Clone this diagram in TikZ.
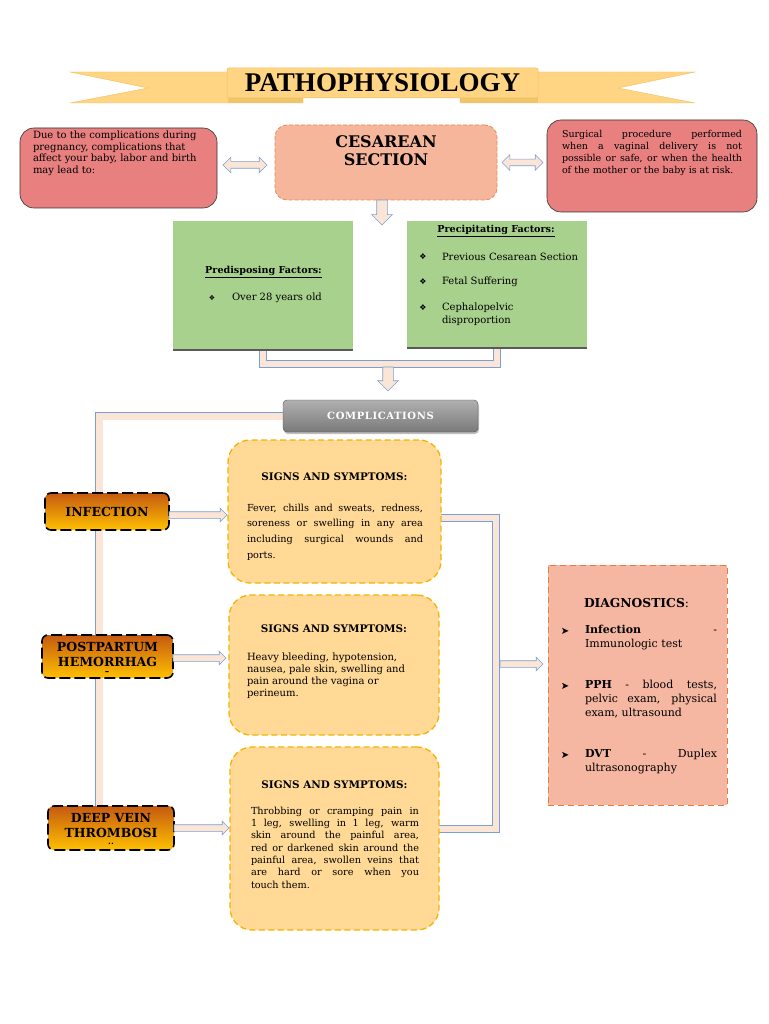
\documentclass[tikz,border=0pt]{standalone}
\usepackage{fontspec}
\setmainfont{DejaVu Serif}
\newfontfamily\titlefont{Liberation Serif}
\newfontfamily\symfont{DejaVu Sans}
\usetikzlibrary{shapes.arrows,calc,backgrounds,shadows}
\definecolor{ribbonfill}{HTML}{FFD583}
\definecolor{ribbonedge}{HTML}{F2BE5C}
\definecolor{ribbondark}{HTML}{F0C46A}
\definecolor{redfill}{HTML}{E88080}
\definecolor{cesfill}{HTML}{F6B69B}
\definecolor{cesedge}{HTML}{EC8A50}
\definecolor{greenfill}{HTML}{A9D18E}
\definecolor{pipeblue}{HTML}{7B9FD3}
\definecolor{pipefill}{HTML}{FBE5D6}
\definecolor{signfill}{HTML}{FFD995}
\definecolor{signedge}{HTML}{F4B400}
\definecolor{orangetop}{HTML}{C55A11}
\definecolor{orangebot}{HTML}{FFC000}
\definecolor{diagfill}{HTML}{F5B7A1}
\definecolor{diagedge}{HTML}{E87A3C}
\definecolor{graytop}{HTML}{B0B0B0}
\definecolor{graybot}{HTML}{7A7A7A}
\newcommand\tailarrow[3]{\path let \p1=#2, \p2=#3, \n1={atan2(\y2-\y1,\x2-\x1)}, \n2={veclen(\x2-\x1,\y2-\y1)} in node[#1, minimum height=\n2, rotate=\n1, anchor=tail] at (\p1) {};}
\newcommand\botharrow[3]{\path let \p1=#2, \p2=#3, \n1={atan2(\y2-\y1,\x2-\x1)}, \n2={veclen(\x2-\x1,\y2-\y1)} in node[#1, minimum height=\n2, rotate=\n1] at ($(\p1)!.5!(\p2)$) {};}
\newcommand\jline[2]{\makebox[#1][s]{#2}}
\newcommand\bodyfont{\fontsize{10}{11.7}\selectfont}
\begin{document}
\begin{tikzpicture}[x=1pt,y=-1pt,
  every node/.style={inner sep=0pt, outer sep=0pt},
  redbox/.style={draw=black!80, line width=.6pt, fill=redfill, rounded corners=14pt},
  cesbox/.style={draw=cesedge, line width=.8pt, dash pattern=on 4pt off 2pt, fill=cesfill, rounded corners=12pt},
  greenbox/.style={fill=greenfill},
  compbox/.style={top color=graytop, bottom color=graybot, draw=graybot!70!black, line width=.4pt, rounded corners=4pt, text=white, font=\bfseries\fontsize{10}{12}\selectfont\addfontfeatures{LetterSpace=6}, drop shadow={shadow xshift=1pt, shadow yshift=-2pt, opacity=.5}},
  signbox/.style={fill=signfill, draw=signedge, line width=1.3pt, dash pattern=on 6pt off 3.5pt, rounded corners=22pt},
  sigtitle/.style={font=\bfseries\fontsize{10.4}{12}\selectfont},
  orangebox/.style={top color=orangetop, bottom color=orangebot, draw=black, line width=1.6pt, dash pattern=on 11pt off 4pt, rounded corners=6pt},
  boxlabel/.style={font=\bfseries\fontsize{12.5}{15}\selectfont, align=center},
  diagbox/.style={fill=diagfill, draw=diagedge, line width=1pt, dash pattern=on 6pt off 4pt},
  pipe/.style={draw=pipeblue, line width=.7pt, double=pipefill, double distance=6pt},
  sarrow/.style={single arrow, draw=pipeblue, fill=pipefill, line width=.6pt, inner xsep=0pt, inner ysep=3pt, minimum width=0pt, single arrow head extend=3.5pt},
  bigarrow/.style={single arrow, draw=pipeblue, fill=pipefill, line width=.6pt, inner xsep=0pt, inner ysep=5pt, minimum width=0pt, single arrow head extend=5pt},
  darrow/.style={double arrow, draw=pipeblue, fill=pipefill, line width=.6pt, inner xsep=0pt, inner ysep=3pt, minimum width=0pt, double arrow head extend=4.5pt},
  bullet/.style={font=\symfont\fontsize{8}{9}\selectfont},
  dbullet/.style={font=\symfont\fontsize{10}{11}\selectfont}
]
\useasboundingbox (0,0) rectangle (768,1024);
\begin{scope}[on background layer]
\fill[white] (0,0) rectangle (768,1024);
\end{scope}

% title ribbon
\filldraw[fill=ribbonfill, draw=ribbonedge, line width=.4pt] (70,72) -- (303,72) -- (303,103) -- (70,103) -- (148,88) -- cycle;
\filldraw[fill=ribbonfill, draw=ribbonedge, line width=.4pt] (695,72) -- (460,72) -- (460,103) -- (695,103) -- (618,88) -- cycle;
\fill[ribbondark] (228,97) rectangle (303,103);
\fill[ribbondark] (460,97) rectangle (538,103);
\node[draw=ribbonedge, fill=ribbonfill, line width=.5pt, rounded corners=2pt, minimum width=311, minimum height=30, font=\titlefont\bfseries\fontsize{27}{30}\selectfont] (title) at (382.5,83) {PATHOPHYSIOLOGY};

% top row
\node[redbox, minimum width=197, minimum height=80] (cause) at (118.5,168) {};
\node[anchor=north west, align=left, font=\bodyfont] (causetxt) at (33,131) {Due to the complications during\\pregnancy, complications that\\affect your baby, labor and birth\\may lead to:};
\node[cesbox, minimum width=222, minimum height=75] (ces) at (386,162.5) {};
\node[font=\bfseries\fontsize{16}{18}\selectfont, align=center] (cestxt) at (386,151) {CESAREAN\\SECTION};
\node[redbox, minimum width=210, minimum height=92] (defn) at (652,166) {};
\node[anchor=north west, align=left, font=\fontsize{9.5}{12}\selectfont] (defntxt) at (562,130) {\jline{180pt}{Surgical procedure performed}\\ \jline{180pt}{when a vaginal delivery is not}\\ \jline{180pt}{possible or safe, or when the health}\\ of the mother or the baby is at risk.};

% factors
\node[greenbox, minimum width=180, minimum height=129] (pre) at (263,285.5) {};
\draw[black!65, line width=1.2pt] (pre.south west) -- (pre.south east);
\node[font=\bfseries\fontsize{9.6}{11}\selectfont] (pretitle) at (263.5,272) {\underline{Predisposing Factors:}};
\node[font=\symfont\fontsize{7}{8}\selectfont] (preb1) at (212,298) {❖};
\node[anchor=west, font=\bodyfont] (pre1) at (232,298) {Over 28 years old};

\node[greenbox, minimum width=180, minimum height=127] (prec) at (497,284.5) {};
\draw[black!65, line width=1.2pt] (prec.south west) -- (prec.south east);
\node[font=\bfseries\fontsize{9.6}{11}\selectfont] (prectitle) at (496,231) {\underline{Precipitating Factors:}};
\node[bullet] (pb1) at (423,257) {❖};
\node[anchor=west, font=\bodyfont] (pc1) at (442,257) {Previous Cesarean Section};
\node[bullet] (pb2) at (423,282) {❖};
\node[anchor=west, font=\bodyfont] (pc2) at (442,282) {Fetal Suffering};
\node[bullet] (pb3) at (423,308) {❖};
\node[anchor=north west, align=left, font=\fontsize{10}{12.5}\selectfont] (pc3) at (442,303) {Cephalopelvic\\disproportion};

% complications
\node[compbox, minimum width=195, minimum height=32] (comp) at (380.5,416) {COMPLICATIONS};

% complication types
\node[orangebox, minimum width=124, minimum height=37] (inf) at (107,511.5) {};
\node[boxlabel] (inftxt) at (107,512) {INFECTION};
\node[orangebox, minimum width=131, minimum height=43] (pph) at (107.5,656.5) {};
\node[boxlabel] (pphtxt) at (107.5,654) {POSTPARTUM\\HEMORRHAG};
\node[font=\bfseries\fontsize{9}{9}\selectfont] (pphcut) at (107,673) {–};
\node[orangebox, minimum width=126, minimum height=44] (dvt) at (111,828) {};
\node[boxlabel] (dvttxt) at (111,825.5) {DEEP VEIN\\THROMBOSI};
\node[font=\bfseries\fontsize{8}{8}\selectfont] (dvtcut) at (111,844) {..};

% signs and symptoms
\node[signbox, minimum width=213, minimum height=143] (s1) at (334.5,511.5) {};
\node[sigtitle] (s1t) at (334.5,477) {SIGNS AND SYMPTOMS:};
\node[anchor=north west, align=left, font=\fontsize{9.7}{15.6}\selectfont] (s1x) at (247,504) {\jline{176pt}{Fever, chills and sweats, redness,}\\ \jline{176pt}{soreness or swelling in any area}\\ \jline{176pt}{including surgical wounds and}\\ ports.};

\node[signbox, minimum width=210, minimum height=140] (s2) at (334,665) {};
\node[sigtitle] (s2t) at (334,629) {SIGNS AND SYMPTOMS:};
\node[anchor=north west, align=left, font=\fontsize{10}{11.8}\selectfont] (s2x) at (247,653) {Heavy bleeding, hypotension,\\nausea, pale skin, swelling and\\pain around the vagina or\\perineum.};

\node[signbox, minimum width=209, minimum height=183] (s3) at (334.5,838.5) {};
\node[sigtitle] (s3t) at (334.5,785) {SIGNS AND SYMPTOMS:};
\node[anchor=north west, align=left, font=\fontsize{9.7}{12.3}\selectfont] (s3x) at (251,807) {\jline{168pt}{Throbbing or cramping pain in}\\ \jline{168pt}{1 leg, swelling in 1 leg, warm}\\ \jline{168pt}{skin around the painful area,}\\ \jline{168pt}{red or darkened skin around the}\\ \jline{168pt}{painful area, swollen veins that}\\ \jline{168pt}{are hard or sore when you}\\ touch them.};

% diagnostics
\node[diagbox, minimum width=179, minimum height=240] (diag) at (637.5,685) {};
\node[anchor=west, font=\fontsize{12.3}{14}\selectfont] (diagt) at (584,603) {\textbf{DIAGNOSTICS}:};
\node[dbullet] (db1) at (565,631) {➤};
\node[anchor=north west, align=left, font=\fontsize{11}{14.5}\selectfont] (d1) at (585,625) {\jline{132pt}{\textbf{Infection} -}\\Immunologic test};
\node[dbullet] (db2) at (565,686) {➤};
\node[anchor=north west, align=left, font=\fontsize{11}{14}\selectfont] (d2) at (585,680) {\jline{132pt}{\textbf{PPH} - blood tests,}\\ \jline{132pt}{pelvic exam, physical}\\exam, ultrasound};
\node[dbullet] (db3) at (565,755) {➤};
\node[anchor=north west, align=left, font=\fontsize{11}{14}\selectfont] (d3) at (585,749) {\jline{132pt}{\textbf{DVT} - Duplex}\\ultrasonography};

% pipes (behind boxes)
\begin{scope}[on background layer]
\draw[pipe] (pre.south) -- ++(0,14) -| (prec.south);
\draw[pipe, double distance=7pt] (comp.west) -| ($(dvt.north)+(-12,0)$);
\draw[pipe] ($(s1.east)+(0,6.5)$) -| ($(s3.east)+(57,-9.5)$) -- ($(s3.east)+(0,-9.5)$);
\end{scope}

% block arrows
\botharrow{darrow}{($(cause.east)+(6,-3)$)}{($(ces.west|-cause.east)+(-8,-3)$)}
\botharrow{darrow}{($(ces.east)+(5,0)$)}{($(defn.west|-ces.east)+(-4,0)$)}
\tailarrow{bigarrow}{($(ces.south)+(-4,0)$)}{($(ces.south)+(-4,25)$)}
\tailarrow{bigarrow}{($(pre.south)+(125,17)$)}{($(comp.north)+(7.5,-9)$)}
\tailarrow{sarrow}{($(inf.east)+(0,3.5)$)}{($(s1.west|-inf.east)+(-1,3.5)$)}
\tailarrow{sarrow}{($(pph.east)+(0,1.5)$)}{($(s2.west|-pph.east)+(-3,1.5)$)}
\tailarrow{sarrow}{(dvt.east)}{($(s3.west|-dvt.east)+(-1,0)$)}
\tailarrow{sarrow}{($(diag.west)+(-48,-21)$)}{($(diag.west)+(-5,-21)$)}
\end{tikzpicture}
\end{document}
